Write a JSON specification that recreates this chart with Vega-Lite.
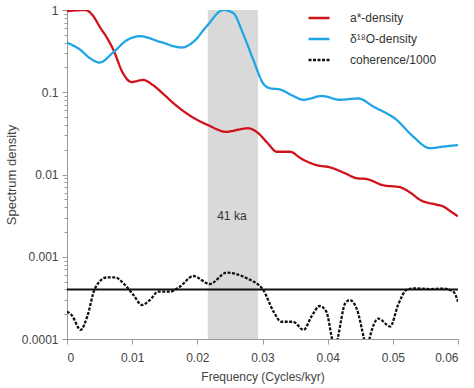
{
  "$schema": "https://vega.github.io/schema/vega-lite/v6.json",
  "width": 391,
  "height": 329,
  "autosize": {"type": "none"},
  "padding": {"left": 67, "top": 10, "right": 16, "bottom": 49},
  "background": "white",
  "config": {
    "view": {"stroke": null},
    "font": "Liberation Sans",
    "axis": {"domainColor": "#9a9a9a", "tickColor": "#9a9a9a", "labelColor": "#444", "titleColor": "#444", "labelFontSize": 12, "titleFontSize": 12, "titleFontWeight": "normal", "grid": false}
  },
  "datasets": {
    "curves": [
      {"series": "a*-density", "f": 0, "v": 0.97},
      {"series": "a*-density", "f": 0.0015, "v": 0.99},
      {"series": "a*-density", "f": 0.0028, "v": 1.0},
      {"series": "a*-density", "f": 0.004, "v": 0.85},
      {"series": "a*-density", "f": 0.005, "v": 0.63},
      {"series": "a*-density", "f": 0.0062, "v": 0.45},
      {"series": "a*-density", "f": 0.0071, "v": 0.33},
      {"series": "a*-density", "f": 0.0086, "v": 0.17},
      {"series": "a*-density", "f": 0.0099, "v": 0.133},
      {"series": "a*-density", "f": 0.0117, "v": 0.141},
      {"series": "a*-density", "f": 0.0132, "v": 0.122},
      {"series": "a*-density", "f": 0.0148, "v": 0.095},
      {"series": "a*-density", "f": 0.0163, "v": 0.074},
      {"series": "a*-density", "f": 0.0194, "v": 0.049},
      {"series": "a*-density", "f": 0.0216, "v": 0.04},
      {"series": "a*-density", "f": 0.0245, "v": 0.033},
      {"series": "a*-density", "f": 0.0262, "v": 0.035},
      {"series": "a*-density", "f": 0.0278, "v": 0.0365},
      {"series": "a*-density", "f": 0.0293, "v": 0.032},
      {"series": "a*-density", "f": 0.0308, "v": 0.024},
      {"series": "a*-density", "f": 0.0322, "v": 0.0189},
      {"series": "a*-density", "f": 0.0342, "v": 0.0189},
      {"series": "a*-density", "f": 0.036, "v": 0.0155},
      {"series": "a*-density", "f": 0.0383, "v": 0.013},
      {"series": "a*-density", "f": 0.0404, "v": 0.0122},
      {"series": "a*-density", "f": 0.0425, "v": 0.0105},
      {"series": "a*-density", "f": 0.0445, "v": 0.009},
      {"series": "a*-density", "f": 0.046, "v": 0.0088},
      {"series": "a*-density", "f": 0.0485, "v": 0.0074},
      {"series": "a*-density", "f": 0.0511, "v": 0.007},
      {"series": "a*-density", "f": 0.0527, "v": 0.006},
      {"series": "a*-density", "f": 0.0542, "v": 0.0049},
      {"series": "a*-density", "f": 0.0567, "v": 0.0043},
      {"series": "a*-density", "f": 0.0577, "v": 0.0041},
      {"series": "a*-density", "f": 0.059, "v": 0.0035},
      {"series": "a*-density", "f": 0.06, "v": 0.0031},
      {"series": "δ¹⁸O-density", "f": 0, "v": 0.4},
      {"series": "δ¹⁸O-density", "f": 0.002, "v": 0.33},
      {"series": "δ¹⁸O-density", "f": 0.0035, "v": 0.26},
      {"series": "δ¹⁸O-density", "f": 0.005, "v": 0.23},
      {"series": "δ¹⁸O-density", "f": 0.0071, "v": 0.306},
      {"series": "δ¹⁸O-density", "f": 0.0092, "v": 0.43},
      {"series": "δ¹⁸O-density", "f": 0.0112, "v": 0.48},
      {"series": "δ¹⁸O-density", "f": 0.0143, "v": 0.41},
      {"series": "δ¹⁸O-density", "f": 0.0176, "v": 0.35},
      {"series": "δ¹⁸O-density", "f": 0.0194, "v": 0.41},
      {"series": "δ¹⁸O-density", "f": 0.0214, "v": 0.63},
      {"series": "δ¹⁸O-density", "f": 0.024, "v": 1.0},
      {"series": "δ¹⁸O-density", "f": 0.0255, "v": 0.92},
      {"series": "δ¹⁸O-density", "f": 0.027, "v": 0.52},
      {"series": "δ¹⁸O-density", "f": 0.0286, "v": 0.246},
      {"series": "δ¹⁸O-density", "f": 0.0301, "v": 0.128},
      {"series": "δ¹⁸O-density", "f": 0.0311, "v": 0.112},
      {"series": "δ¹⁸O-density", "f": 0.0327, "v": 0.108},
      {"series": "δ¹⁸O-density", "f": 0.0345, "v": 0.092},
      {"series": "δ¹⁸O-density", "f": 0.0363, "v": 0.081},
      {"series": "δ¹⁸O-density", "f": 0.0391, "v": 0.09},
      {"series": "δ¹⁸O-density", "f": 0.0419, "v": 0.081},
      {"series": "δ¹⁸O-density", "f": 0.0447, "v": 0.084},
      {"series": "δ¹⁸O-density", "f": 0.047, "v": 0.067},
      {"series": "δ¹⁸O-density", "f": 0.0506, "v": 0.046},
      {"series": "δ¹⁸O-density", "f": 0.0531, "v": 0.029},
      {"series": "δ¹⁸O-density", "f": 0.0557, "v": 0.0209},
      {"series": "δ¹⁸O-density", "f": 0.0577, "v": 0.0218},
      {"series": "δ¹⁸O-density", "f": 0.06, "v": 0.0228},
      {"series": "coherence/1000", "f": 0, "v": 0.000215},
      {"series": "coherence/1000", "f": 0.0007, "v": 0.000196},
      {"series": "coherence/1000", "f": 0.0021, "v": 0.000129},
      {"series": "coherence/1000", "f": 0.0031, "v": 0.000187},
      {"series": "coherence/1000", "f": 0.0043, "v": 0.000413},
      {"series": "coherence/1000", "f": 0.0061, "v": 0.00056},
      {"series": "coherence/1000", "f": 0.0074, "v": 0.00056},
      {"series": "coherence/1000", "f": 0.0089, "v": 0.000454},
      {"series": "coherence/1000", "f": 0.0102, "v": 0.000343},
      {"series": "coherence/1000", "f": 0.0115, "v": 0.000259},
      {"series": "coherence/1000", "f": 0.0127, "v": 0.000297},
      {"series": "coherence/1000", "f": 0.014, "v": 0.000376},
      {"series": "coherence/1000", "f": 0.0158, "v": 0.000376},
      {"series": "coherence/1000", "f": 0.0173, "v": 0.000432},
      {"series": "coherence/1000", "f": 0.0194, "v": 0.000583},
      {"series": "coherence/1000", "f": 0.0219, "v": 0.000466},
      {"series": "coherence/1000", "f": 0.0245, "v": 0.00064},
      {"series": "coherence/1000", "f": 0.0276, "v": 0.000547},
      {"series": "coherence/1000", "f": 0.0301, "v": 0.000395},
      {"series": "coherence/1000", "f": 0.0317, "v": 0.000215},
      {"series": "coherence/1000", "f": 0.0329, "v": 0.000162},
      {"series": "coherence/1000", "f": 0.0347, "v": 0.000162},
      {"series": "coherence/1000", "f": 0.0363, "v": 0.000129},
      {"series": "coherence/1000", "f": 0.0375, "v": 0.000187},
      {"series": "coherence/1000", "f": 0.0388, "v": 0.000252},
      {"series": "coherence/1000", "f": 0.0398, "v": 0.000215},
      {"series": "coherence/1000", "f": 0.0406, "v": 0.000107},
      {"series": "coherence/1000", "f": 0.0411, "v": 0.00007},
      {"series": "coherence/1000", "f": 0.0416, "v": 0.000107},
      {"series": "coherence/1000", "f": 0.0427, "v": 0.000272},
      {"series": "coherence/1000", "f": 0.0434, "v": 0.000297},
      {"series": "coherence/1000", "f": 0.0445, "v": 0.000228},
      {"series": "coherence/1000", "f": 0.0455, "v": 0.000107},
      {"series": "coherence/1000", "f": 0.046, "v": 0.00007},
      {"series": "coherence/1000", "f": 0.0465, "v": 0.000107},
      {"series": "coherence/1000", "f": 0.0478, "v": 0.000177},
      {"series": "coherence/1000", "f": 0.0496, "v": 0.000142},
      {"series": "coherence/1000", "f": 0.0508, "v": 0.000259},
      {"series": "coherence/1000", "f": 0.0521, "v": 0.000395},
      {"series": "coherence/1000", "f": 0.0534, "v": 0.000413},
      {"series": "coherence/1000", "f": 0.0557, "v": 0.000405},
      {"series": "coherence/1000", "f": 0.0577, "v": 0.00041},
      {"series": "coherence/1000", "f": 0.0593, "v": 0.000376},
      {"series": "coherence/1000", "f": 0.06, "v": 0.000284}
    ]
  },
  "layer": [
    {
      "data": {"values": [{"start": 0.0216, "end": 0.0293}]},
      "mark": {"type": "rect", "color": "#d9d9d9"},
      "encoding": {
        "x": {"field": "start", "type": "quantitative", "title": "Frequency (Cycles/kyr)"},
        "x2": {"field": "end"}
      }
    },
    {
      "data": {"values": [{"f": 0.0253, "v": 0.0031, "label": "41 ka"}]},
      "mark": {"type": "text", "fontSize": 12, "color": "#333"},
      "encoding": {
        "x": {"field": "f", "type": "quantitative", "title": "Frequency (Cycles/kyr)"},
        "y": {"field": "v", "type": "quantitative", "title": "Spectrum density"},
        "text": {"field": "label"}
      }
    },
    {
      "data": {"name": "curves"},
      "mark": {"type": "line", "interpolate": "monotone", "strokeWidth": 2.3, "clip": true},
      "encoding": {
        "x": {
          "field": "f", "type": "quantitative",
          "scale": {"domain": [0, 0.06], "nice": false, "zero": false},
          "title": "Frequency (Cycles/kyr)",
          "axis": {
            "values": [0, 0.005, 0.01, 0.015, 0.02, 0.025, 0.03, 0.035, 0.04, 0.045, 0.05, 0.055, 0.06],
            "format": "~g",
            "labelExpr": "round(datum.value * 200) % 2 == 0 ? datum.label : ''",
            "tickSize": {"condition": {"test": "round(datum.value * 200) % 2 == 0", "value": 5}, "value": 3},
            "labelPadding": 8,
            "titlePadding": 8
          }
        },
        "y": {
          "field": "v", "type": "quantitative",
          "scale": {"type": "log", "domain": [0.0001, 1], "nice": false},
          "title": "Spectrum density",
          "axis": {
            "values": [0.0001, 0.0002, 0.0003, 0.0004, 0.0005, 0.0006, 0.0007, 0.0008, 0.0009, 0.001, 0.002, 0.003, 0.004, 0.005, 0.006, 0.007, 0.008, 0.009, 0.01, 0.02, 0.03, 0.04, 0.05, 0.06, 0.07, 0.08, 0.09, 0.1, 0.2, 0.3, 0.4, 0.5, 0.6, 0.7, 0.8, 0.9, 1],
            "format": "~g",
            "labelExpr": "indexof([0.0001, 0.001, 0.01, 0.1, 1], datum.value) >= 0 ? datum.label : ''",
            "tickSize": {"condition": {"test": "indexof([0.0001, 0.001, 0.01, 0.1, 1], datum.value) >= 0", "value": 5}, "value": 3},
            "labelPadding": 4,
            "labelOverlap": false,
            "titleFontSize": 13,
            "titlePadding": 3
          }
        },
        "color": {
          "field": "series", "type": "nominal",
          "scale": {"domain": ["a*-density", "δ¹⁸O-density", "coherence/1000"], "range": ["#d0121b", "#1fa5e6", "#111111"]},
          "legend": {
            "title": null, "orient": "none", "legendX": 240, "legendY": -4,
            "symbolType": "stroke", "symbolSize": 441, "symbolStrokeWidth": 2.5,
            "labelFontSize": 12, "labelColor": "#333", "labelOffset": 19, "rowPadding": 3
          }
        },
        "strokeDash": {
          "field": "series", "type": "nominal",
          "scale": {"domain": ["a*-density", "δ¹⁸O-density", "coherence/1000"], "range": [[1, 0], [1, 0], [3, 1.5]]},
          "legend": {
            "title": null, "orient": "none", "legendX": 240, "legendY": -4,
            "symbolType": "stroke", "symbolSize": 441, "symbolStrokeWidth": 2.5,
            "labelFontSize": 12, "labelColor": "#333", "labelOffset": 19, "rowPadding": 3
          }
        }
      }
    },
    {
      "data": {"values": [{"level": 0.0004}]},
      "mark": {"type": "rule", "color": "#111", "strokeWidth": 2},
      "encoding": {
        "y": {"field": "level", "type": "quantitative", "title": "Spectrum density"}
      }
    }
  ]
}
